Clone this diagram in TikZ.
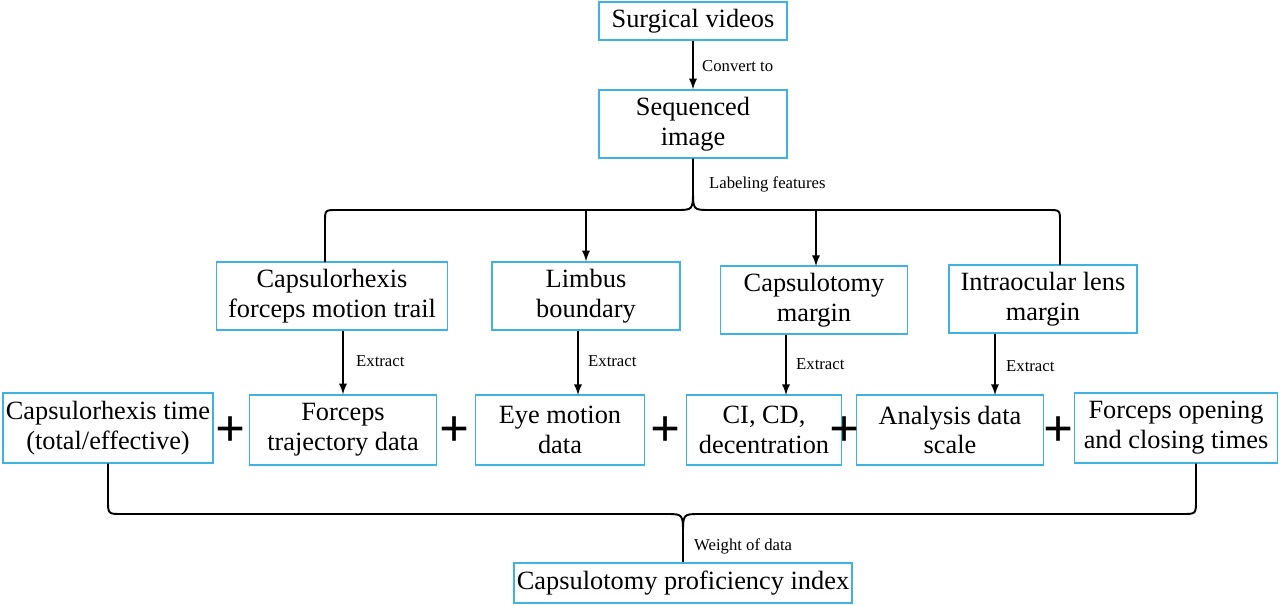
\documentclass[tikz,border=0pt]{standalone}
\usepackage{fontspec}
\setmainfont{Liberation Serif}
\definecolor{BoxBlue}{rgb}{0.25,0.70,0.88}
\tikzset{
  box/.style={draw=BoxBlue,line width=.8pt,align=center,font=\fontsize{15}{17}\selectfont,inner sep=0pt},
  lbl/.style={font=\fontsize{9.5}{11}\selectfont,anchor=west},
  plus/.style={font=\fontsize{30}{30}\selectfont\bfseries,inner sep=0pt},
  link/.style={line width=1.1pt},
  arr/.style={link,-latex}
}
\begin{document}
\begin{tikzpicture}[x=0.02cm,y=-0.02cm]
\useasboundingbox (0,0) rectangle (1280,605);
% top part
\node[box,minimum width=188*0.02cm,minimum height=38*0.02cm] (vid) at (693,21) {Surgical videos};
\node[box,minimum width=188*0.02cm,minimum height=68*0.02cm] (seq) at (693,124) {Sequenced\\image};
\draw[arr] (vid) -- (seq);
\node[lbl] at (696,66) {Convert to};
% features
\node[box,minimum width=231*0.02cm,minimum height=68*0.02cm] (trail) at (332,296) {Capsulorhexis\\forceps motion trail};
\node[box,minimum width=188*0.02cm,minimum height=68*0.02cm] (limb) at (586,296) {Limbus\\boundary};
\node[box,minimum width=187*0.02cm,minimum height=68*0.02cm] (cmarg) at (814,300) {Capsulotomy\\margin};
\node[box,minimum width=188*0.02cm,minimum height=68*0.02cm] (lens) at (1043,299) {Intraocular lens\\margin};
% brace
\draw[link] (seq.south) -- (693,190) .. controls (693,210) .. (710,210) -- (1048,210)
  .. controls (1060,210) .. (1060,222) -- (1060,265);
\draw[link] (693,190) .. controls (693,210) .. (676,210) -- (337,210)
  .. controls (325,210) .. (325,222) -- (325,262);
\draw[arr] (586,210) -- (limb.north);
\draw[arr] (816,210) -- (816,266);
\node[lbl] at (703,184) {Labeling features};
% data row
\node[box,minimum width=210*0.02cm,minimum height=70*0.02cm] (time) at (108,428) {Capsulorhexis time\\(total/effective)};
\node[box,minimum width=187*0.02cm,minimum height=70*0.02cm] (traj) at (343,430) {Forceps\\trajectory data};
\node[box,minimum width=169*0.02cm,minimum height=70*0.02cm] (eye) at (560,430) {Eye motion\\data};
\node[box,minimum width=155*0.02cm,minimum height=70*0.02cm] (ci) at (764,430) {CI, CD,\\decentration};
\node[box,minimum width=187*0.02cm,minimum height=70*0.02cm] (scale) at (950,430) {Analysis data\\scale};
\node[box,minimum width=203*0.02cm,minimum height=70*0.02cm] (open) at (1176,428) {Forceps opening\\and closing times};
\foreach \px/\nm in {231/p1,455/p2,666/p3,845/p4,1058/p5}
  \node[plus] (\nm) at (\px,432) {+};
% extract arrows
\draw[arr] (trail.south -| traj) -- (traj.north);
\draw[arr] (limb.south -| 578,0) -- (578,395);
\draw[arr] (cmarg.south -| 786,0) -- (786,395);
\draw[arr] (lens.south -| 995,0) -- (995,395);
\node[lbl] at (350,361) {Extract};
\node[lbl] at (582,361) {Extract};
\node[lbl] at (790,364) {Extract};
\node[lbl] at (1000,366) {Extract};
% bottom brace
\node[box,minimum width=338*0.02cm,minimum height=40*0.02cm] (idx) at (683,583) {Capsulotomy proficiency index};
\draw[link] (time.south -| 108,0) -- (108,500) .. controls (108,514) .. (122,514) -- (666,514)
  .. controls (683,514) .. (683,534);
\draw[link] (open.south -| 1196,0) -- (1196,500) .. controls (1196,514) .. (1182,514) -- (700,514)
  .. controls (683,514) .. (683,534);
\draw[link] (683,534) -- (idx.north);
\node[lbl] at (688,546) {Weight of data};
\end{tikzpicture}
\end{document}
